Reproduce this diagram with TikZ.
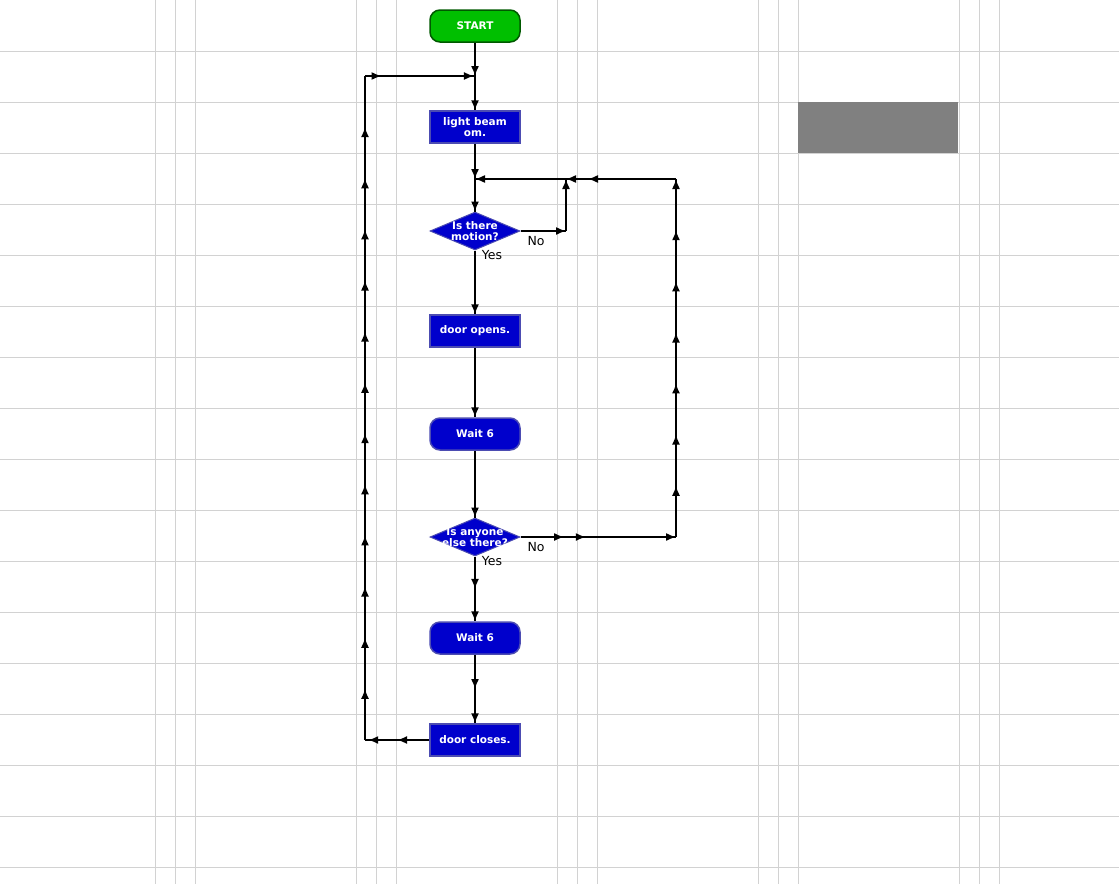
\documentclass[tikz,border=0pt]{standalone}
\usepackage{fontspec}
\setmainfont{DejaVu Sans}
\usetikzlibrary{arrows.meta,decorations.markings,shapes.geometric}
\begin{document}
\begin{tikzpicture}[x=1pt,y=-1pt,
  box/.style={draw=blue!40!gray,line width=1.5pt,fill=blue!80!black,text=white,font=\bfseries\fontsize{10.5}{11}\selectfont,align=center,minimum width=90pt,minimum height=32pt,inner sep=1pt},
  rbox/.style={box,rounded corners=10pt},
  dia/.style={diamond,draw=blue!40!gray,line width=1pt,fill=blue!80!black,minimum width=90pt,minimum height=38pt,inner sep=0pt},
  dtxt/.style={text=white,font=\bfseries\fontsize{10.5}{11}\selectfont,align=center,inner sep=0pt},
  lab/.style={font=\fontsize{12.5}{13}\selectfont},
  ln/.style={line width=1.5pt},
  m/.style={postaction={decorate,decoration={markings,mark=at position #1 with {\arrow{Latex[length=10pt,width=8pt]}}}}}]
\useasboundingbox (0,0) rectangle (1119,884);
\foreach \y in {51,102,...,867} \draw[gray!35] (0,\y) -- (1119,\y);
\foreach \x in {155,175,195,356,376,396,557,577,597,758,778,798,959,979,999} \draw[gray!35] (\x,0) -- (\x,884);
\fill[gray] (798,102) rectangle (958,153);

\node[rbox,fill=green!75!black,draw=green!35!black] (s) at (475,26) {START};
\node[box] (lb) at (475,127) {light beam\\om.};
\node[dia] (d1) at (475,231) {};
\node[dtxt] (t1) at (d1.center) {Is there\\motion?};
\node[box] (do) at (475,331) {door opens.};
\node[rbox] (w1) at (475,434) {Wait 6};
\node[dia] (d2) at (475,537) {};
\node[dtxt] (t2) at (d2.center) {Is anyone\\else there?};
\node[rbox] (w2) at (475,638) {Wait 6};
\node[box] (dc) at (475,740) {door closes.};

\coordinate (j1) at (475,76);
\coordinate (j2) at (475,179);
\coordinate (l1) at (365,740);
\coordinate (l2) at (365,76);
\coordinate (r1) at (566,231);
\coordinate (r2) at (566,179);
\coordinate (o1) at (676,537);
\coordinate (o2) at (676,179);

\draw[ln,m=1] (s) -- (j1);
\draw[ln,m=1] (j1) -- (lb);
\draw[ln,m=1] (lb) -- (j2);
\draw[ln,m=1] (j2) -- (d1);
\draw[ln,m=1] (d1) -- (r1);
\draw[ln,m=1] (r1) -- (r2);
\draw[ln,m=1] (r2) -- (j2);
\draw[ln,m=1] (d1) -- (do);
\draw[ln,m=1] (do) -- (w1);
\draw[ln,m=1] (w1) -- (d2);
\draw[ln,m=0.5,m=1] (d2) -- (w2);
\draw[ln,m=0.5,m=1] (w2) -- (dc);
\draw[ln,m=0.28,m=0.42,m=1] (d2.east) -- (o1);
\draw[ln,m=0.143,m=0.286,m=0.429,m=0.571,m=0.714,m=0.857,m=1] (o1) -- (o2);
\draw[ln,m=0.8,m=1] (o2) -- (r2);
\draw[ln,m=0.5,m=0.95] (dc) -- (l1);
\draw[ln,m=0.077,m=0.154,m=0.231,m=0.308,m=0.385,m=0.462,m=0.538,m=0.615,m=0.692,m=0.769,m=0.846,m=0.923] (l1) -- (l2);
\draw[ln,m=0.15,m=0.99] (l2) -- (j1);

\node[lab] at (536,241) {No};
\node[lab] at (492,255) {Yes};
\node[lab] at (536,547) {No};
\node[lab] at (492,561) {Yes};
\end{tikzpicture}
\end{document}
